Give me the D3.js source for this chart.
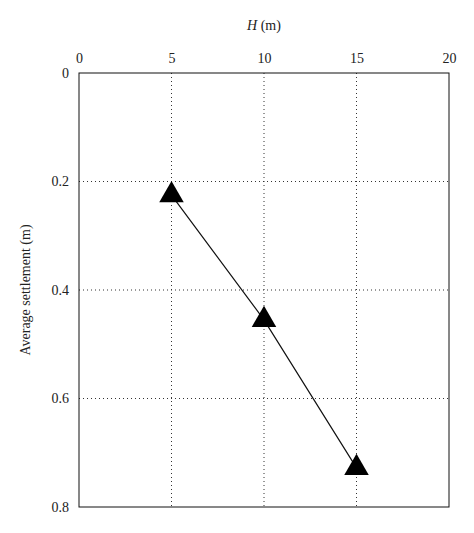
<!DOCTYPE html>
<html><head><meta charset="utf-8">
<script src="https://cdn.jsdelivr.net/npm/d3@7"></script>
<style>
body{margin:0;background:#fff}
text{font-family:"Liberation Serif","DejaVu Serif",serif;font-size:14px;fill:#222}
</style></head>
<body><svg id="chart"></svg>
<script>
const heights = [5, 10, 15];
const settlements = [0.225, 0.455, 0.728];
const xTicks = [0, 5, 10, 15, 20];
const yTicks = [0, 0.2, 0.4, 0.6, 0.8];

const width = 474, height = 533;
const marginLeft = 79, marginRight = 25, marginTop = 73, marginBottom = 26;

const svg = d3.select('#chart').attr('width', width).attr('height', height);

const x = d3.scaleLinear().domain([0, 20]).range([marginLeft, width - marginRight]);
const y = d3.scaleLinear().domain([0, 0.8]).range([marginTop, height - marginBottom]);

// Grid lines.
svg.append('g').selectAll('line').data(xTicks.slice(1, -1)).enter().append('line')
    .attr('x1', d => x(d)).attr('x2', d => x(d))
    .attr('y1', marginTop).attr('y2', height - marginBottom)
    .attr('stroke', '#333').attr('stroke-width', 1).attr('stroke-dasharray', '1,3');
svg.append('g').selectAll('line').data(yTicks.slice(1, -1)).enter().append('line')
    .attr('x1', marginLeft).attr('x2', width - marginRight)
    .attr('y1', d => y(d)).attr('y2', d => y(d))
    .attr('stroke', '#333').attr('stroke-width', 1).attr('stroke-dasharray', '1,3');

// Axes.
const topAxis = svg.append('g').attr('transform', `translate(0,${marginTop})`)
    .call(d3.axisTop(x).tickValues(xTicks).tickSize(0).tickPadding(10));
const leftAxis = svg.append('g').attr('transform', `translate(${marginLeft},0)`)
    .call(d3.axisLeft(y).tickValues(yTicks).tickSize(0).tickPadding(10).tickFormat(d => d === 0 ? '0' : d3.format('.1f')(d)));
[topAxis, leftAxis].forEach(g => { g.select('.domain').remove(); g.selectAll('text').style('font-size', '14px').style('font-family', null); });

svg.append('rect').attr('x', marginLeft).attr('y', marginTop)
    .attr('width', width - marginLeft - marginRight).attr('height', height - marginTop - marginBottom)
    .attr('fill', 'none').attr('stroke', '#111').attr('stroke-width', 1);

// Axis labels.
const xl = svg.append('text').attr('x', x(10)).attr('y', 30).attr('text-anchor', 'middle');
xl.append('tspan').attr('font-style', 'italic').text('H');
xl.append('tspan').text(' (m)');
svg.append('text').attr('transform', `translate(30,${y(0.4)}) rotate(-90)`)
    .attr('text-anchor', 'middle').text('Average settlement (m)');

// Line and markers.
const pts = heights.map((h, i) => [h, settlements[i]]);
svg.append('path').datum(pts)
    .attr('d', d3.line().x(d => x(d[0])).y(d => y(d[1])))
    .attr('fill', 'none').attr('stroke', '#111').attr('stroke-width', 1.2);
svg.append('g').selectAll('path').data(pts).enter().append('path')
    .attr('transform', d => `translate(${x(d[0])},${y(d[1])})`)
    .attr('d', d3.symbol().type(d3.symbolTriangle).size(260))
    .attr('fill', '#000');
</script></body></html>
